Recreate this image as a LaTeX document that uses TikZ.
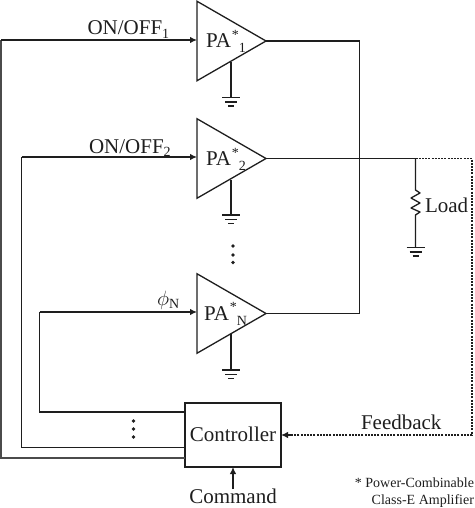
\documentclass[tikz,border=0pt]{standalone}
\usepackage{fontspec}
\setmainfont{Liberation Serif}
\usetikzlibrary{arrows.meta,shapes.geometric,calc}
\definecolor{ink}{HTML}{1E1E1E}
\newcommand{\bigtxt}{\fontsize{21}{24}\selectfont}
\newcommand{\subtxt}{\fontsize{14}{16}\selectfont}
\newcommand{\subdn}[1]{\raisebox{-3.5pt}{\subtxt #1}}
\newcommand{\palabel}[1]{PA\hspace{1pt}\raisebox{8.5pt}{\subtxt *}\raisebox{-5pt}{\subtxt #1}}
\tikzset{
  wire/.style={draw=ink,line width=1.3pt},
  sigwire/.style={wire,-{Latex[length=7pt,width=6.5pt]}},
  fbwire/.style={draw=ink,line width=1.5pt,dash pattern=on 2pt off 1.2pt},
  amp/.style={draw=ink,line width=1.3pt,isosceles triangle,isosceles triangle stretches,
    minimum width=79.5pt,minimum height=69pt,inner sep=0pt,outer sep=0pt,anchor=lower side},
  lab/.style={text=ink,inner sep=0pt,outer sep=0pt,anchor=base west,font=\bigtxt},
  foot/.style={text=ink,inner sep=0pt,outer sep=0pt,anchor=base east,font=\fontsize{14}{16}\selectfont},
  dotmark/.style={circle,fill=ink,inner sep=0pt,minimum size=3.6pt},
  ctrlbox/.style={draw=ink,line width=1.3pt,rectangle,minimum width=96pt,minimum height=64pt,
    inner sep=0pt,outer sep=0pt},
  gnd/.pic={
    \draw[draw=ink,line width=1.4pt] (-9,0) -- (9,0) (-6,4.5) -- (6,4.5) (-3,8.5) -- (3,8.5);
  }
}
\begin{document}
\begin{tikzpicture}[x=1pt,y=-1pt]
\useasboundingbox (0,0) rectangle (474,508);
% amplifiers
\node[amp] (pa1) at (197,41) {};
\node[amp] (pa2) at (197,158.5) {};
\node[amp] (paN) at (197,313.5) {};
\node[lab] (pa1t) at (206,47.7) {\palabel{1}};
\node[lab] (pa2t) at (206,165.7) {\palabel{2}};
\node[lab] (paNt) at (204,320) {\palabel{N}};
% controller
\node[ctrlbox] (ctrl) at (233,435) {};
\node[lab,anchor=base] (ctrlt) at (233,441) {Controller};
\node[lab,anchor=base] (cmd) at (233,503) {Command};
% helper coordinates
\coordinate (c1) at (1,458);
\coordinate (c2) at (21.5,447.5);
\coordinate (cN) at (39.5,412);
\coordinate (in1) at (197,40);
\coordinate (in2) at (197,157);
\coordinate (inN) at (197,312);
\coordinate (s1) at (231,62);
\coordinate (s2) at (231,179.5);
\coordinate (sN) at (231,334);
\coordinate (g1) at (231,97.5);
\coordinate (g2) at (231,215);
\coordinate (gN) at (231,370);
\coordinate (bus) at (359.5,158.5);
\coordinate (jn) at (415.5,158.5);
\coordinate (corner) at (472,158.5);
\coordinate (gL) at (415.5,247.5);
\coordinate (fbr) at (472,435);
% inputs
\draw[wire,draw=ink!80,line width=2pt] (ctrl.west |- c1) -- (c1) -- (c1 |- in1);
\draw[sigwire] (c1 |- in1) -- (in1);
\draw[wire] (ctrl.west |- c2) -- (c2) -- (c2 |- in2);
\draw[sigwire] (c2 |- in2) -- (in2);
\draw[wire] (ctrl.west |- cN) -- (cN) -- (cN |- inN);
\draw[sigwire] (cN |- inN) -- (inN);
% labels
\node[lab] (on1) at (87.5,35) {ON/OFF\subdn{1}};
\node[lab] (on2) at (89,153) {ON/OFF\subdn{2}};
\node[lab] (phi) at (157,305) {$\phi$\subdn{N}};
% outputs
\draw[wire] (pa1.apex) -- (359.5,41) -- (359.5,313.5) -- (paN.apex);
\draw[wire] (pa2.apex) -- (bus) -- (jn);
% grounds
\draw[wire] (s1) -- (g1); \pic at (g1) {gnd};
\draw[wire] (s2) -- (g2); \pic at (g2) {gnd};
\draw[wire] (sN) -- (gN); \pic at (gN) {gnd};
% load
\draw[wire,line join=round] (jn) -- (415.5,190) -- (420,193) -- (411,198) -- (420,203) -- (411,208) -- (420,212) -- (415.5,215) -- (gL);
\pic at (gL) {gnd};
\node[lab] (load) at (425,212.7) {Load};
% feedback
\draw[fbwire] (jn) -- (corner) -- (fbr) -- (284,435);
\draw[wire,-{Latex[length=7pt,width=6.5pt]}] (292,435) -- (ctrl.east);
\node[lab] (fb) at (361,429) {Feedback};
% command arrow
\draw[sigwire] (233,489) -- (ctrl.south);
% dots
\node[dotmark] (d1) at (233,246) {};
\node[dotmark] (d2) at (233,255) {};
\node[dotmark] (d3) at (233,262.5) {};
\node[dotmark] (d4) at (133.5,421) {};
\node[dotmark] (d5) at (133.5,429) {};
\node[dotmark] (d6) at (133.5,437) {};
% note
\node[foot] (n1) at (474,487) {* Power-Combinable};
\node[foot] (n2) at (474,504) {Class-E Amplifier};
\end{tikzpicture}
\end{document}
